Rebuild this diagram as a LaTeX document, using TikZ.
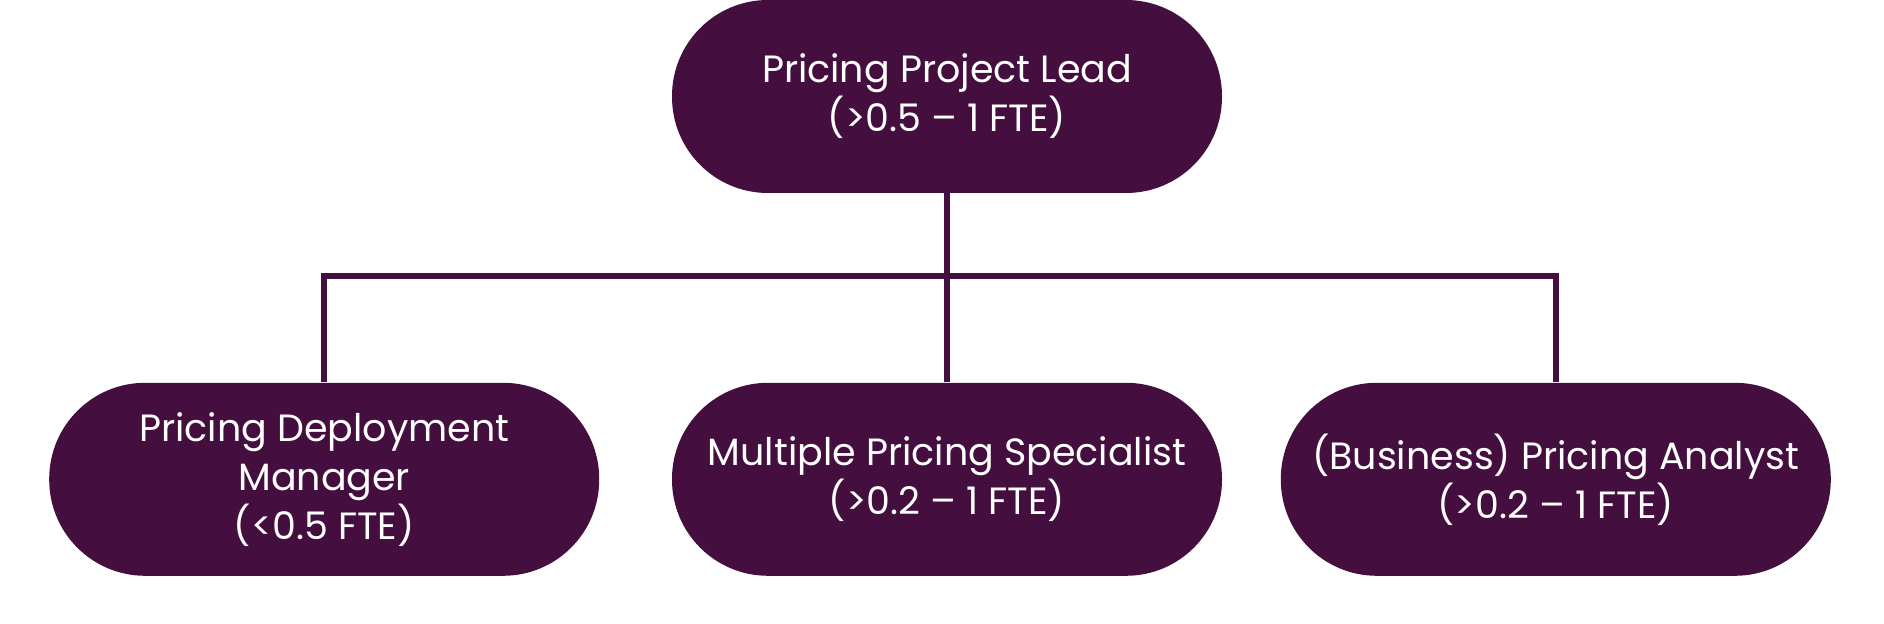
\documentclass[tikz,border=0pt]{standalone}
\usepackage{fontspec}
\setmainfont{Poppins}
\usetikzlibrary{positioning}
\definecolor{plum}{HTML}{440E3E}
\tikzset{
  role/.style={fill=plum, text=white, rounded corners=48pt, minimum width=275pt,
    minimum height=96.5pt, inner sep=0pt, align=center,
    font=\fontsize{19}{24.5}\selectfont},
  link/.style={draw=plum, line width=3pt}
}

\begin{document}
\begin{tikzpicture}[x=0.5pt,y=-0.5pt]
  \useasboundingbox (0,0) rectangle (1884,624);
  \node[role] (lead) at (947,96.5) {Pricing Project Lead\\(>0.5 – 1 FTE)};
  \node[role, below=94.5pt of lead] (spec) {Multiple Pricing Specialist\\(>0.2 – 1 FTE)};
  \node[role, left=36pt of spec] (deploy) {Pricing Deployment\\Manager\\(<0.5 FTE)};
  \node[role, right=29pt of spec] (analyst) {(Business) Pricing Analyst\\(>0.2 – 1 FTE)};
  % connectors
  \coordinate (bar) at (947,276);
  \draw[link] (lead.south) -- (bar) -- (spec.north);
  \draw[link] (deploy.north) |- (bar) -| (analyst.north);
\end{tikzpicture}
\end{document}
